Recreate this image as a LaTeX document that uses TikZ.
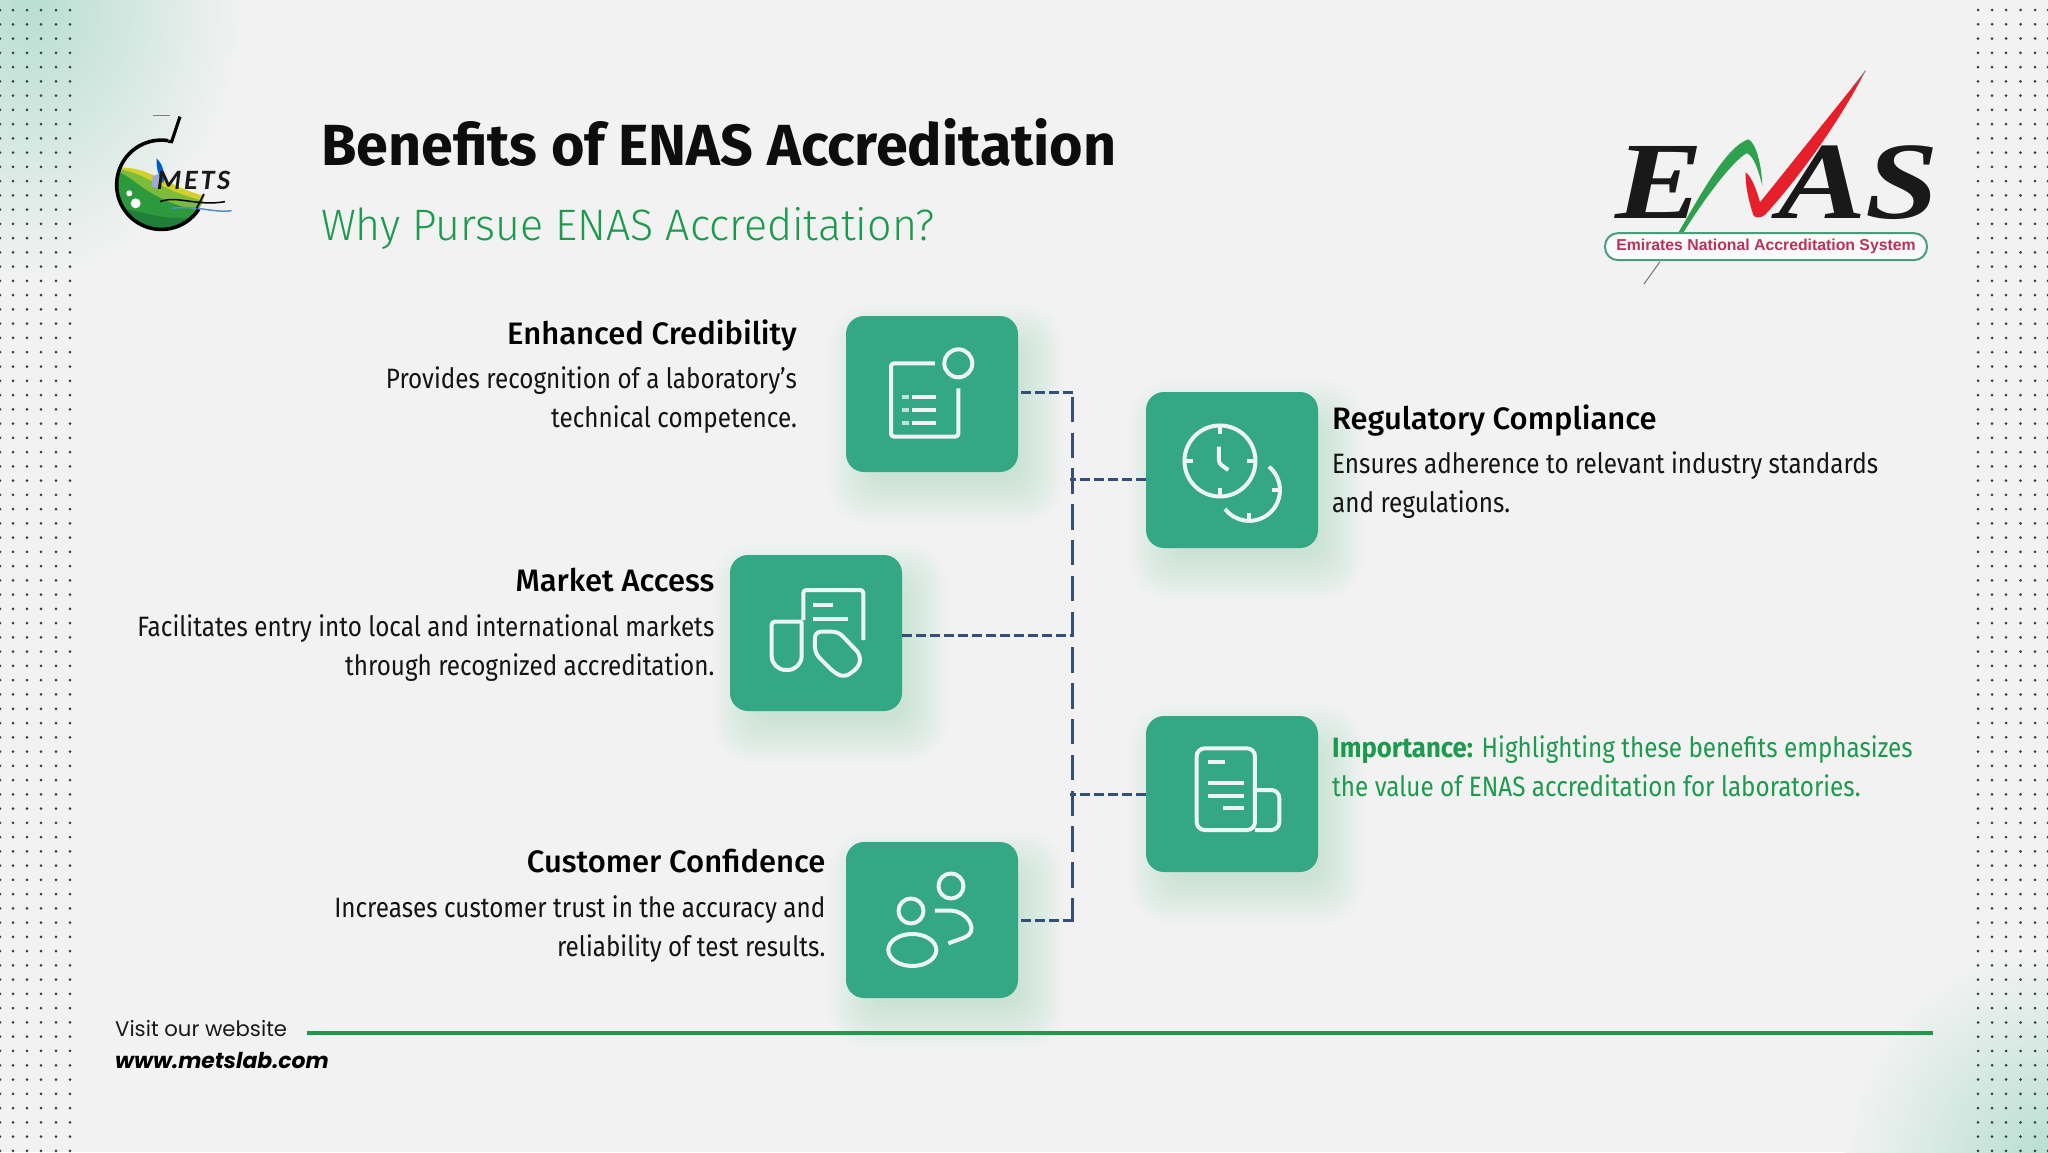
\documentclass[tikz,border=0pt]{standalone}
\usepackage{fontspec}
\usepackage{tikz}
\usetikzlibrary{backgrounds}
\setmainfont{Fira Sans}
\newfontfamily\titlefont{Fira Sans}[FakeStretch=.99]
\newfontfamily\subfont{Fira Sans Light}[FakeStretch=.975]
\newfontfamily\headfont{Fira Sans Medium}[FakeStretch=1.0]
\newfontfamily\bodyfont{Fira Sans}[FakeStretch=.866]
\newfontfamily\boldbody{Fira Sans}[FakeStretch=.92]
\newfontfamily\footfont{Poppins}
\newfontfamily\metsfont{Carlito}[LetterSpace=10]
\newfontfamily\enasfont{Liberation Serif}[FakeStretch=1.2]
\newfontfamily\pillfont{Liberation Sans}
\definecolor{pagegray}{HTML}{F2F2F2}
\definecolor{cornerteal}{HTML}{B8DED2}
\definecolor{dotgray}{HTML}{36443F}
\definecolor{boxteal}{HTML}{34A884}
\definecolor{glyphwhite}{HTML}{EEF4F1}
\definecolor{linkblue}{HTML}{34507A}
\definecolor{brandgreen}{HTML}{1C9A4E}
\definecolor{pillred}{HTML}{B8325A}
\definecolor{pillgreen}{HTML}{4A9E7C}
\definecolor{checkgreen}{HTML}{2DA14D}
\definecolor{checkred}{HTML}{E5202B}
\definecolor{metsyellow}{HTML}{D5CF2A}
\definecolor{metslime}{HTML}{7DBB3C}
\definecolor{metsgreen}{HTML}{2C9A3C}
\definecolor{metsdark}{HTML}{1F7F37}
\tikzstyle{iconbox} = [rectangle, fill=boxteal, rounded corners=18pt, minimum width=172pt, minimum height=156pt, inner sep=0pt]
\tikzstyle{heading} = [inner sep=0pt, text=black, font=\headfont\fontsize{31}{38}\selectfont, text height=23pt, text depth=7pt]
\tikzstyle{bodytext} = [inner sep=0pt, text=black!92, font=\bodyfont\fontsize{28}{39.5}\selectfont]
\tikzstyle{enasletter} = [anchor=base west, inner sep=0pt, text=black!90, text depth=0pt, font=\enasfont\bfseries\itshape\fontsize{110}{110}\selectfont]
\tikzstyle{glyph} = [draw=glyphwhite, line width=4pt, line join=round, rounded corners=3pt]
\tikzstyle{link} = [draw=linkblue, line width=3pt, dash pattern=on 10pt off 4pt]
\tikzstyle{trunk} = [draw=linkblue, line width=3pt, dash pattern=on 25.5pt off 10.3pt]
\begin{document}
\begin{tikzpicture}[x=1pt, y=-1pt]
	\useasboundingbox (0,0) rectangle (2048,1152);
	\node [iconbox] (credit) at (932,394) {};
	\node [iconbox, below of=credit, node distance=526pt] (customer) {};
	\node [iconbox, below of=credit, node distance=239pt, xshift=-116pt] (market) {};
	\node [iconbox, right of=credit, node distance=300pt, yshift=-76pt] (comply) {};
	\node [iconbox, below of=comply, node distance=324pt] (importance) {};

	\begin{scope}[on background layer]
		\fill [pagegray] (0,0) rectangle (2048,1152);
		\begin{scope}
			\clip (0,0) rectangle (2048,1152);
			\shade [inner color=cornerteal, outer color=pagegray] (30,0) ellipse [x radius=215pt, y radius=280pt];
			\shade [inner color=cornerteal, outer color=pagegray] (2045,1160) ellipse [x radius=200pt, y radius=210pt];
			\foreach \col in {0,13,27,41,56,70,1978,1992,2006,2020.5,2035,2048}
				\foreach \row in {0,...,80}
					\fill [dotgray] (\col,{10+14.26*\row}) circle (1.5pt);
		\end{scope}
		\foreach \name in {credit,customer,market,comply,importance}
			\foreach \grow in {-14,-11,...,31}
				\fill [boxteal, opacity=.012, rounded corners={24pt+1pt*\grow/2}] ([shift={({14-\grow},{20+\grow})}]\name.south west) rectangle ([shift={({14+\grow},{20-\grow})}]\name.north east);
	\end{scope}

	\node [anchor=west, inner sep=0pt, text=black!95, font=\titlefont\bfseries\fontsize{58}{66}\selectfont] (title) at (321,142.5) {Benefits of ENAS Accreditation};
	\node [anchor=west, inner sep=0pt, text=brandgreen, font=\subfont\fontsize{44}{52}\selectfont] (subtitle) at (321,228) {Why Pursue ENAS Accreditation?};

	\node [heading, anchor=east] (credithead) at (797,336) {Enhanced Credibility};
	\node [bodytext, anchor=north east, align=right] (creditbody) at (797,366) {Provides recognition of a laboratory’s\\technical competence.};
	\node [heading, anchor=east] (markethead) at (714.5,583) {Market Access};
	\node [bodytext, anchor=north east, align=right] (marketbody) at (714.5,614) {Facilitates entry into local and international markets\\through recognized accreditation.};
	\node [heading, anchor=east] (customerhead) at (825.5,864) {Customer Confidence};
	\node [bodytext, anchor=north east, align=right] (customerbody) at (825.5,895) {Increases customer trust in the accuracy and\\reliability of test results.};
	\node [heading, anchor=west] (complyhead) at (1332,421) {Regulatory Compliance};
	\node [bodytext, anchor=north west, align=left] (complybody) at (1332,451) {Ensures adherence to relevant industry standards\\and regulations.};
	\node [bodytext, anchor=north west, align=left, text=brandgreen] (importancebody) at (1332,735) {{\boldbody\bfseries Importance:} Highlighting these benefits emphasizes\\the value of ENAS accreditation for laboratories.};

	\coordinate (trunktop) at (1072,396.7);
	\coordinate (trunkcorner) at (1074,392);
	\coordinate (trunkbottom) at (1072,922);
	\coordinate (joincomply) at (1070,479);
	\coordinate (joinmarket) at (1072,635);
	\coordinate (joinimportance) at (1070,794);
	\coordinate (joincustomer) at (1072,920);
	\path [trunk] (trunktop) -- (trunkbottom);
	\path [link, shorten <=3pt] (credit.east |- trunkcorner) -- (trunkcorner);
	\path [link] (comply.west |- joincomply) -- (joincomply);
	\path [link] (market.east |- joinmarket) -- (joinmarket);
	\path [link] (importance.west |- joinimportance) -- (joinimportance);
	\path [link, shorten <=3pt] (customer.east |- joincustomer) -- (joincustomer);

	\begin{scope}[shift={(820,290)}, x=.3333pt, y=-.3333pt]
		\path [glyph] (345,220) -- (213,220) -- (213,440) -- (415,440) -- (415,295);
		\path [glyph] (415,220) circle (14pt);
		\foreach \bary in {320,360,400} {
			\path [glyph, draw=glyphwhite!75!boxteal] (246,\bary) -- (268,\bary);
			\path [glyph] (277,\bary) -- (347,\bary);
		}
		\path [glyph] (1200,513) circle (35.5pt);
		\path [glyph] (1200,408) -- (1200,432);
		\path [glyph] (1200,618) -- (1200,594);
		\path [glyph] (1095,513) -- (1119,513);
		\path [glyph] (1305,513) -- (1281,513);
		\path [glyph] (1197,470) -- (1197,520) -- (1225,540);
		\path [glyph] (1347,530) arc [start angle=50, end angle=-142, radius=30.7pt];
		\path [glyph] (1380,600) -- (1356,600);
		\path [glyph] (1288,692) -- (1288,668);
	\end{scope}
	\begin{scope}[shift={(700,540)}, x=.3333pt, y=-.3333pt]
		\path [glyph] (310,240) -- (310,150) -- (490,150) -- (490,300);
		\path [glyph] (308,245) -- (215,245) [rounded corners=14pt] -- (215,390) -- (305,390) [rounded corners=3pt] -- (305,245);
		\path [glyph, rounded corners=6pt] (345,275) -- (415,275) -- (482,345) -- (478,380) -- (435,412) -- (405,400) -- (345,340) -- cycle;
		\path [glyph] (340,195) -- (400,195);
		\path [glyph] (340,237) -- (443,237);
	\end{scope}
	\begin{scope}[shift={(820,700)}, x=.3333pt, y=-.3333pt]
		\path [glyph] (393,558) circle (12.5pt);
		\path [glyph] (273,633) circle (12.5pt);
		\path [glyph, rounded corners=12pt] (345,632) -- (430,632) -- (468,700) -- (385,730);
		\path [glyph] (277,750) ellipse [x radius=24pt, y radius=16pt];
		\path [glyph, rounded corners=8pt] (1130,145) -- (1305,145) -- (1305,390) -- (1130,390) -- cycle;
		\path [glyph, rounded corners=8pt] (1305,270) -- (1378,270) -- (1378,390) -- (1305,390);
		\path [glyph] (1163,185) -- (1215,185);
		\path [glyph] (1163,250) -- (1272,250);
		\path [glyph] (1163,287) -- (1272,287);
		\path [glyph] (1208,323) -- (1272,323);
	\end{scope}

	\begin{scope}[x=.3333pt, y=-.3333pt]
		\begin{scope}
			\clip (484,554) circle (44.67pt);
			\fill [metsyellow] (340,505) .. controls (440,490) and (500,560) .. (620,590) -- (620,700) -- (340,700) -- cycle;
			\fill [metslime] (340,508) .. controls (420,505) and (470,570) .. (620,605) -- (620,700) -- (340,700) -- cycle;
			\fill [metsgreen] (340,512) .. controls (400,520) and (440,610) .. (620,635) -- (620,700) -- (340,700) -- cycle;
			\fill [metsdark] (340,625) .. controls (420,625) and (480,670) .. (620,650) -- (620,700) -- (340,700) -- cycle;
		\end{scope}
		\draw [black, line width=3.6pt] (505,422) arc [start angle=81, end angle=327, radius=44.67pt];
		\draw [black, line width=3.2pt] (505,424) -- (515,425) -- (540,350);
		\draw [black!50, line width=.8pt] (458,345) -- (510,345);
		\fill [white] (388,580) circle (3pt);
		\fill [white] (407,610) circle (5pt);
		\fill [blue!55!cyan!80!black] (470,475) .. controls (490,495) and (495,520) .. (490,550) .. controls (475,530) and (468,500) .. (470,475);
		\fill [cyan!35!blue!40!white] (458,530) -- (478,520) -- (472,565) -- (455,560) -- cycle;
		\node [anchor=base west, inner sep=0pt, text=black!90, text depth=0pt, font=\metsfont\bfseries\itshape\fontsize{28}{30}\selectfont] (metstext) at (470,570) {METS};
		\draw [black, line width=1.5pt] (480,605) .. controls (530,585) and (590,620) .. (675,605);
		\draw [cyan!50!blue!70!white, line width=1.5pt] (515,625) .. controls (590,615) and (640,640) .. (695,632);
		\draw [black, line width=1.8pt] (612,582) -- (590,625);
	\end{scope}

	\begin{scope}[shift={(1570,40)}, x=.3333pt, y=-.3333pt]
		\node [enasletter] (enase) at (136,537) {E};
		\node [enasletter] (enasa) at (625,537) {A};
		\node [enasletter] (enass) at (885,537) {S};
		\fill [checkgreen] (325,578) .. controls (400,450) and (470,320) .. (535,298) .. controls (560,310) and (575,380) .. (577,437) .. controls (565,390) and (550,345) .. (530,340) .. controls (490,360) and (400,480) .. (340,578) -- cycle;
		\fill [checkred] (527,397) .. controls (545,410) and (560,450) .. (570,487) -- (885,95) .. controls (800,260) and (680,420) .. (585,525) .. controls (570,535) and (555,535) .. (550,525) .. controls (535,480) and (525,430) .. (527,397);
		\draw [black!50, line width=.8pt] (845,145) -- (887,92);
		\draw [black!55, line width=1pt] (270,665) -- (222,732);
		\node [draw=pillgreen, line width=2pt, fill=white!60!pagegray, rounded corners=13pt, minimum width=322pt, minimum height=27pt, inner sep=0pt, text=pillred, font=\pillfont\bfseries\fontsize{15.8}{17}\selectfont] (enaspill) at (588,620) {Emirates National Accreditation System};
	\end{scope}

	\node [anchor=base west, inner sep=0pt, text=black!90, font=\footfont\fontsize{21.2}{24}\selectfont] (visit) at (115,1036) {Visit our website};
	\node [anchor=base west, inner sep=0pt, text=black, font=\footfont\bfseries\itshape\fontsize{21.9}{24}\selectfont] (website) at (115,1068) {www.metslab.com};
	\coordinate (ruleend) at (1933,1033);
	\draw [brandgreen, line width=4.5pt] (307,1033) -- (ruleend);
\end{tikzpicture}
\end{document}
